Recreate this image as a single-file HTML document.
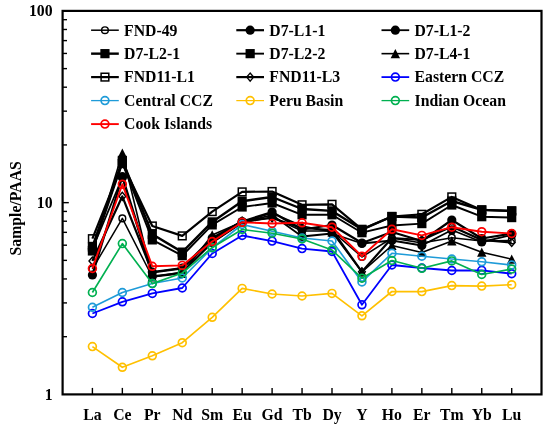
<!DOCTYPE html><html><head><meta charset="utf-8"><title>REE pattern</title><style>html,body{margin:0;padding:0;background:#fff}svg{display:block}text{font-family:"Liberation Serif","Times New Roman",serif;font-weight:bold;fill:#000}</style></head><body>
<svg width="550" height="426" viewBox="0 0 550 426">
<rect width="550" height="426" fill="#fff"/>
<polyline points="92.40,269.00 122.35,218.40 152.30,277.00 182.25,272.00 212.20,243.00 242.15,223.00 272.10,217.00 302.05,231.00 332.00,231.00 361.95,257.00 391.90,238.00 421.85,243.00 451.80,237.70 481.75,241.00 511.70,240.40" fill="none" stroke="#000" stroke-width="1.5" stroke-linejoin="round"/>
<circle cx="92.40" cy="269.00" r="3.35" fill="none" stroke="#000" stroke-width="1.45"/>
<circle cx="122.35" cy="218.40" r="3.35" fill="none" stroke="#000" stroke-width="1.45"/>
<circle cx="152.30" cy="277.00" r="3.35" fill="none" stroke="#000" stroke-width="1.45"/>
<circle cx="182.25" cy="272.00" r="3.35" fill="none" stroke="#000" stroke-width="1.45"/>
<circle cx="212.20" cy="243.00" r="3.35" fill="none" stroke="#000" stroke-width="1.45"/>
<circle cx="242.15" cy="223.00" r="3.35" fill="none" stroke="#000" stroke-width="1.45"/>
<circle cx="272.10" cy="217.00" r="3.35" fill="none" stroke="#000" stroke-width="1.45"/>
<circle cx="302.05" cy="231.00" r="3.35" fill="none" stroke="#000" stroke-width="1.45"/>
<circle cx="332.00" cy="231.00" r="3.35" fill="none" stroke="#000" stroke-width="1.45"/>
<circle cx="361.95" cy="257.00" r="3.35" fill="none" stroke="#000" stroke-width="1.45"/>
<circle cx="391.90" cy="238.00" r="3.35" fill="none" stroke="#000" stroke-width="1.45"/>
<circle cx="421.85" cy="243.00" r="3.35" fill="none" stroke="#000" stroke-width="1.45"/>
<circle cx="451.80" cy="237.70" r="3.35" fill="none" stroke="#000" stroke-width="1.45"/>
<circle cx="481.75" cy="241.00" r="3.35" fill="none" stroke="#000" stroke-width="1.45"/>
<circle cx="511.70" cy="240.40" r="3.35" fill="none" stroke="#000" stroke-width="1.45"/>
<polyline points="92.40,275.00 122.35,176.50 152.30,272.00 182.25,268.00 212.20,238.00 242.15,221.50 272.10,212.00 302.05,229.50 332.00,225.00 361.95,243.00 391.90,232.00 421.85,241.00 451.80,220.00 481.75,238.50 511.70,233.50" fill="none" stroke="#000" stroke-width="2.2" stroke-linejoin="round"/>
<circle cx="92.40" cy="275.00" r="4.6" fill="#000"/>
<circle cx="122.35" cy="176.50" r="4.6" fill="#000"/>
<circle cx="152.30" cy="272.00" r="4.6" fill="#000"/>
<circle cx="182.25" cy="268.00" r="4.6" fill="#000"/>
<circle cx="212.20" cy="238.00" r="4.6" fill="#000"/>
<circle cx="242.15" cy="221.50" r="4.6" fill="#000"/>
<circle cx="272.10" cy="212.00" r="4.6" fill="#000"/>
<circle cx="302.05" cy="229.50" r="4.6" fill="#000"/>
<circle cx="332.00" cy="225.00" r="4.6" fill="#000"/>
<circle cx="361.95" cy="243.00" r="4.6" fill="#000"/>
<circle cx="391.90" cy="232.00" r="4.6" fill="#000"/>
<circle cx="421.85" cy="241.00" r="4.6" fill="#000"/>
<circle cx="451.80" cy="220.00" r="4.6" fill="#000"/>
<circle cx="481.75" cy="238.50" r="4.6" fill="#000"/>
<circle cx="511.70" cy="233.50" r="4.6" fill="#000"/>
<polyline points="92.40,248.80 122.35,177.50 152.30,276.20 182.25,273.00 212.20,242.00 242.15,222.50 272.10,215.00 302.05,236.50 332.00,233.50 361.95,243.50 391.90,240.50 421.85,245.50 451.80,230.00 481.75,242.00 511.70,235.00" fill="none" stroke="#000" stroke-width="1.8" stroke-linejoin="round"/>
<circle cx="92.40" cy="248.80" r="4.6" fill="#000"/>
<circle cx="122.35" cy="177.50" r="4.6" fill="#000"/>
<circle cx="152.30" cy="276.20" r="4.6" fill="#000"/>
<circle cx="182.25" cy="273.00" r="4.6" fill="#000"/>
<circle cx="212.20" cy="242.00" r="4.6" fill="#000"/>
<circle cx="242.15" cy="222.50" r="4.6" fill="#000"/>
<circle cx="272.10" cy="215.00" r="4.6" fill="#000"/>
<circle cx="302.05" cy="236.50" r="4.6" fill="#000"/>
<circle cx="332.00" cy="233.50" r="4.6" fill="#000"/>
<circle cx="361.95" cy="243.50" r="4.6" fill="#000"/>
<circle cx="391.90" cy="240.50" r="4.6" fill="#000"/>
<circle cx="421.85" cy="245.50" r="4.6" fill="#000"/>
<circle cx="451.80" cy="230.00" r="4.6" fill="#000"/>
<circle cx="481.75" cy="242.00" r="4.6" fill="#000"/>
<circle cx="511.70" cy="235.00" r="4.6" fill="#000"/>
<polyline points="92.40,247.00 122.35,160.40 152.30,234.30 182.25,252.10 212.20,221.90 242.15,201.20 272.10,197.00 302.05,209.00 332.00,210.90 361.95,229.60 391.90,216.50 421.85,217.50 451.80,201.00 481.75,209.90 511.70,210.90" fill="none" stroke="#000" stroke-width="2.4" stroke-linejoin="round"/>
<rect x="87.80" y="242.40" width="9.2" height="9.2" fill="#000"/>
<rect x="117.75" y="155.80" width="9.2" height="9.2" fill="#000"/>
<rect x="147.70" y="229.70" width="9.2" height="9.2" fill="#000"/>
<rect x="177.65" y="247.50" width="9.2" height="9.2" fill="#000"/>
<rect x="207.60" y="217.30" width="9.2" height="9.2" fill="#000"/>
<rect x="237.55" y="196.60" width="9.2" height="9.2" fill="#000"/>
<rect x="267.50" y="192.40" width="9.2" height="9.2" fill="#000"/>
<rect x="297.45" y="204.40" width="9.2" height="9.2" fill="#000"/>
<rect x="327.40" y="206.30" width="9.2" height="9.2" fill="#000"/>
<rect x="357.35" y="225.00" width="9.2" height="9.2" fill="#000"/>
<rect x="387.30" y="211.90" width="9.2" height="9.2" fill="#000"/>
<rect x="417.25" y="212.90" width="9.2" height="9.2" fill="#000"/>
<rect x="447.20" y="196.40" width="9.2" height="9.2" fill="#000"/>
<rect x="477.15" y="205.30" width="9.2" height="9.2" fill="#000"/>
<rect x="507.10" y="206.30" width="9.2" height="9.2" fill="#000"/>
<polyline points="92.40,250.50 122.35,163.00 152.30,239.90 182.25,255.70 212.20,224.90 242.15,207.00 272.10,203.00 302.05,214.80 332.00,214.80 361.95,232.70 391.90,225.50 421.85,223.60 451.80,205.00 481.75,216.70 511.70,217.60" fill="none" stroke="#000" stroke-width="1.9" stroke-linejoin="round"/>
<rect x="87.80" y="245.90" width="9.2" height="9.2" fill="#000"/>
<rect x="117.75" y="158.40" width="9.2" height="9.2" fill="#000"/>
<rect x="147.70" y="235.30" width="9.2" height="9.2" fill="#000"/>
<rect x="177.65" y="251.10" width="9.2" height="9.2" fill="#000"/>
<rect x="207.60" y="220.30" width="9.2" height="9.2" fill="#000"/>
<rect x="237.55" y="202.40" width="9.2" height="9.2" fill="#000"/>
<rect x="267.50" y="198.40" width="9.2" height="9.2" fill="#000"/>
<rect x="297.45" y="210.20" width="9.2" height="9.2" fill="#000"/>
<rect x="327.40" y="210.20" width="9.2" height="9.2" fill="#000"/>
<rect x="357.35" y="228.10" width="9.2" height="9.2" fill="#000"/>
<rect x="387.30" y="220.90" width="9.2" height="9.2" fill="#000"/>
<rect x="417.25" y="219.00" width="9.2" height="9.2" fill="#000"/>
<rect x="447.20" y="200.40" width="9.2" height="9.2" fill="#000"/>
<rect x="477.15" y="212.10" width="9.2" height="9.2" fill="#000"/>
<rect x="507.10" y="213.00" width="9.2" height="9.2" fill="#000"/>
<polyline points="92.40,251.00 122.35,153.30 152.30,277.00 182.25,273.50 212.20,235.00 242.15,222.00 272.10,213.00 302.05,226.00 332.00,232.00 361.95,272.00 391.90,245.50 421.85,252.50 451.80,241.00 481.75,252.20 511.70,259.20" fill="none" stroke="#000" stroke-width="1.6" stroke-linejoin="round"/>
<polygon points="92.40,246.30 87.70,255.50 97.10,255.50" fill="#000"/>
<polygon points="122.35,148.60 117.65,157.80 127.05,157.80" fill="#000"/>
<polygon points="152.30,272.30 147.60,281.50 157.00,281.50" fill="#000"/>
<polygon points="182.25,268.80 177.55,278.00 186.95,278.00" fill="#000"/>
<polygon points="212.20,230.30 207.50,239.50 216.90,239.50" fill="#000"/>
<polygon points="242.15,217.30 237.45,226.50 246.85,226.50" fill="#000"/>
<polygon points="272.10,208.30 267.40,217.50 276.80,217.50" fill="#000"/>
<polygon points="302.05,221.30 297.35,230.50 306.75,230.50" fill="#000"/>
<polygon points="332.00,227.30 327.30,236.50 336.70,236.50" fill="#000"/>
<polygon points="361.95,267.30 357.25,276.50 366.65,276.50" fill="#000"/>
<polygon points="391.90,240.80 387.20,250.00 396.60,250.00" fill="#000"/>
<polygon points="421.85,247.80 417.15,257.00 426.55,257.00" fill="#000"/>
<polygon points="451.80,236.30 447.10,245.50 456.50,245.50" fill="#000"/>
<polygon points="481.75,247.50 477.05,256.70 486.45,256.70" fill="#000"/>
<polygon points="511.70,254.50 507.00,263.70 516.40,263.70" fill="#000"/>
<polyline points="92.40,238.70 122.35,163.60 152.30,226.00 182.25,235.90 212.20,211.60 242.15,191.90 272.10,191.50 302.05,204.80 332.00,204.30 361.95,229.30 391.90,216.50 421.85,214.30 451.80,196.90 481.75,209.90 511.70,210.90" fill="none" stroke="#000" stroke-width="2.2" stroke-linejoin="round"/>
<rect x="88.55" y="234.85" width="7.7" height="7.7" fill="none" stroke="#000" stroke-width="1.5"/>
<rect x="118.50" y="159.75" width="7.7" height="7.7" fill="none" stroke="#000" stroke-width="1.5"/>
<rect x="148.45" y="222.15" width="7.7" height="7.7" fill="none" stroke="#000" stroke-width="1.5"/>
<rect x="178.40" y="232.05" width="7.7" height="7.7" fill="none" stroke="#000" stroke-width="1.5"/>
<rect x="208.35" y="207.75" width="7.7" height="7.7" fill="none" stroke="#000" stroke-width="1.5"/>
<rect x="238.30" y="188.05" width="7.7" height="7.7" fill="none" stroke="#000" stroke-width="1.5"/>
<rect x="268.25" y="187.65" width="7.7" height="7.7" fill="none" stroke="#000" stroke-width="1.5"/>
<rect x="298.20" y="200.95" width="7.7" height="7.7" fill="none" stroke="#000" stroke-width="1.5"/>
<rect x="328.15" y="200.45" width="7.7" height="7.7" fill="none" stroke="#000" stroke-width="1.5"/>
<rect x="358.10" y="225.45" width="7.7" height="7.7" fill="none" stroke="#000" stroke-width="1.5"/>
<rect x="388.05" y="212.65" width="7.7" height="7.7" fill="none" stroke="#000" stroke-width="1.5"/>
<rect x="418.00" y="210.45" width="7.7" height="7.7" fill="none" stroke="#000" stroke-width="1.5"/>
<rect x="447.95" y="193.05" width="7.7" height="7.7" fill="none" stroke="#000" stroke-width="1.5"/>
<rect x="477.90" y="206.05" width="7.7" height="7.7" fill="none" stroke="#000" stroke-width="1.5"/>
<rect x="507.85" y="207.05" width="7.7" height="7.7" fill="none" stroke="#000" stroke-width="1.5"/>
<polyline points="92.40,261.00 122.35,196.30 152.30,272.50 182.25,268.50 212.20,240.00 242.15,221.00 272.10,218.00 302.05,228.00 332.00,230.00 361.95,271.80 391.90,238.00 421.85,240.00 451.80,226.50 481.75,240.00 511.70,242.50" fill="none" stroke="#000" stroke-width="2.2" stroke-linejoin="round"/>
<polygon points="92.40,257.00 89.00,261.00 92.40,265.00 95.80,261.00" fill="none" stroke="#000" stroke-width="1.4"/>
<polygon points="122.35,192.30 118.95,196.30 122.35,200.30 125.75,196.30" fill="none" stroke="#000" stroke-width="1.4"/>
<polygon points="152.30,268.50 148.90,272.50 152.30,276.50 155.70,272.50" fill="none" stroke="#000" stroke-width="1.4"/>
<polygon points="182.25,264.50 178.85,268.50 182.25,272.50 185.65,268.50" fill="none" stroke="#000" stroke-width="1.4"/>
<polygon points="212.20,236.00 208.80,240.00 212.20,244.00 215.60,240.00" fill="none" stroke="#000" stroke-width="1.4"/>
<polygon points="242.15,217.00 238.75,221.00 242.15,225.00 245.55,221.00" fill="none" stroke="#000" stroke-width="1.4"/>
<polygon points="272.10,214.00 268.70,218.00 272.10,222.00 275.50,218.00" fill="none" stroke="#000" stroke-width="1.4"/>
<polygon points="302.05,224.00 298.65,228.00 302.05,232.00 305.45,228.00" fill="none" stroke="#000" stroke-width="1.4"/>
<polygon points="332.00,226.00 328.60,230.00 332.00,234.00 335.40,230.00" fill="none" stroke="#000" stroke-width="1.4"/>
<polygon points="361.95,267.80 358.55,271.80 361.95,275.80 365.35,271.80" fill="none" stroke="#000" stroke-width="1.4"/>
<polygon points="391.90,234.00 388.50,238.00 391.90,242.00 395.30,238.00" fill="none" stroke="#000" stroke-width="1.4"/>
<polygon points="421.85,236.00 418.45,240.00 421.85,244.00 425.25,240.00" fill="none" stroke="#000" stroke-width="1.4"/>
<polygon points="451.80,222.50 448.40,226.50 451.80,230.50 455.20,226.50" fill="none" stroke="#000" stroke-width="1.4"/>
<polygon points="481.75,236.00 478.35,240.00 481.75,244.00 485.15,240.00" fill="none" stroke="#000" stroke-width="1.4"/>
<polygon points="511.70,238.50 508.30,242.50 511.70,246.50 515.10,242.50" fill="none" stroke="#000" stroke-width="1.4"/>
<polyline points="92.40,313.50 122.35,301.80 152.30,293.40 182.25,288.00 212.20,253.50 242.15,235.50 272.10,241.10 302.05,248.60 332.00,251.50 361.95,304.80 391.90,265.00 421.85,268.00 451.80,270.50 481.75,270.30 511.70,273.70" fill="none" stroke="#0000ff" stroke-width="1.8" stroke-linejoin="round"/>
<circle cx="92.40" cy="313.50" r="3.9" fill="none" stroke="#0000ff" stroke-width="1.7"/>
<circle cx="122.35" cy="301.80" r="3.9" fill="none" stroke="#0000ff" stroke-width="1.7"/>
<circle cx="152.30" cy="293.40" r="3.9" fill="none" stroke="#0000ff" stroke-width="1.7"/>
<circle cx="182.25" cy="288.00" r="3.9" fill="none" stroke="#0000ff" stroke-width="1.7"/>
<circle cx="212.20" cy="253.50" r="3.9" fill="none" stroke="#0000ff" stroke-width="1.7"/>
<circle cx="242.15" cy="235.50" r="3.9" fill="none" stroke="#0000ff" stroke-width="1.7"/>
<circle cx="272.10" cy="241.10" r="3.9" fill="none" stroke="#0000ff" stroke-width="1.7"/>
<circle cx="302.05" cy="248.60" r="3.9" fill="none" stroke="#0000ff" stroke-width="1.7"/>
<circle cx="332.00" cy="251.50" r="3.9" fill="none" stroke="#0000ff" stroke-width="1.7"/>
<circle cx="361.95" cy="304.80" r="3.9" fill="none" stroke="#0000ff" stroke-width="1.7"/>
<circle cx="391.90" cy="265.00" r="3.9" fill="none" stroke="#0000ff" stroke-width="1.7"/>
<circle cx="421.85" cy="268.00" r="3.9" fill="none" stroke="#0000ff" stroke-width="1.7"/>
<circle cx="451.80" cy="270.50" r="3.9" fill="none" stroke="#0000ff" stroke-width="1.7"/>
<circle cx="481.75" cy="270.30" r="3.9" fill="none" stroke="#0000ff" stroke-width="1.7"/>
<circle cx="511.70" cy="273.70" r="3.9" fill="none" stroke="#0000ff" stroke-width="1.7"/>
<polyline points="92.40,307.30 122.35,292.50 152.30,283.50 182.25,278.00 212.20,248.00 242.15,224.50 272.10,231.30 302.05,238.00 332.00,241.00 361.95,281.90 391.90,253.30 421.85,256.20 451.80,259.00 481.75,261.80 511.70,265.00" fill="none" stroke="#1e9bd8" stroke-width="1.65" stroke-linejoin="round"/>
<circle cx="92.40" cy="307.30" r="3.9" fill="none" stroke="#1e9bd8" stroke-width="1.7"/>
<circle cx="122.35" cy="292.50" r="3.9" fill="none" stroke="#1e9bd8" stroke-width="1.7"/>
<circle cx="152.30" cy="283.50" r="3.9" fill="none" stroke="#1e9bd8" stroke-width="1.7"/>
<circle cx="182.25" cy="278.00" r="3.9" fill="none" stroke="#1e9bd8" stroke-width="1.7"/>
<circle cx="212.20" cy="248.00" r="3.9" fill="none" stroke="#1e9bd8" stroke-width="1.7"/>
<circle cx="242.15" cy="224.50" r="3.9" fill="none" stroke="#1e9bd8" stroke-width="1.7"/>
<circle cx="272.10" cy="231.30" r="3.9" fill="none" stroke="#1e9bd8" stroke-width="1.7"/>
<circle cx="302.05" cy="238.00" r="3.9" fill="none" stroke="#1e9bd8" stroke-width="1.7"/>
<circle cx="332.00" cy="241.00" r="3.9" fill="none" stroke="#1e9bd8" stroke-width="1.7"/>
<circle cx="361.95" cy="281.90" r="3.9" fill="none" stroke="#1e9bd8" stroke-width="1.7"/>
<circle cx="391.90" cy="253.30" r="3.9" fill="none" stroke="#1e9bd8" stroke-width="1.7"/>
<circle cx="421.85" cy="256.20" r="3.9" fill="none" stroke="#1e9bd8" stroke-width="1.7"/>
<circle cx="451.80" cy="259.00" r="3.9" fill="none" stroke="#1e9bd8" stroke-width="1.7"/>
<circle cx="481.75" cy="261.80" r="3.9" fill="none" stroke="#1e9bd8" stroke-width="1.7"/>
<circle cx="511.70" cy="265.00" r="3.9" fill="none" stroke="#1e9bd8" stroke-width="1.7"/>
<polyline points="92.40,346.60 122.35,367.30 152.30,355.80 182.25,342.70 212.20,317.30 242.15,288.40 272.10,294.00 302.05,296.00 332.00,293.40 361.95,315.80 391.90,291.50 421.85,291.60 451.80,285.60 481.75,286.10 511.70,284.70" fill="none" stroke="#ffc000" stroke-width="1.65" stroke-linejoin="round"/>
<circle cx="92.40" cy="346.60" r="3.9" fill="none" stroke="#ffc000" stroke-width="1.7"/>
<circle cx="122.35" cy="367.30" r="3.9" fill="none" stroke="#ffc000" stroke-width="1.7"/>
<circle cx="152.30" cy="355.80" r="3.9" fill="none" stroke="#ffc000" stroke-width="1.7"/>
<circle cx="182.25" cy="342.70" r="3.9" fill="none" stroke="#ffc000" stroke-width="1.7"/>
<circle cx="212.20" cy="317.30" r="3.9" fill="none" stroke="#ffc000" stroke-width="1.7"/>
<circle cx="242.15" cy="288.40" r="3.9" fill="none" stroke="#ffc000" stroke-width="1.7"/>
<circle cx="272.10" cy="294.00" r="3.9" fill="none" stroke="#ffc000" stroke-width="1.7"/>
<circle cx="302.05" cy="296.00" r="3.9" fill="none" stroke="#ffc000" stroke-width="1.7"/>
<circle cx="332.00" cy="293.40" r="3.9" fill="none" stroke="#ffc000" stroke-width="1.7"/>
<circle cx="361.95" cy="315.80" r="3.9" fill="none" stroke="#ffc000" stroke-width="1.7"/>
<circle cx="391.90" cy="291.50" r="3.9" fill="none" stroke="#ffc000" stroke-width="1.7"/>
<circle cx="421.85" cy="291.60" r="3.9" fill="none" stroke="#ffc000" stroke-width="1.7"/>
<circle cx="451.80" cy="285.60" r="3.9" fill="none" stroke="#ffc000" stroke-width="1.7"/>
<circle cx="481.75" cy="286.10" r="3.9" fill="none" stroke="#ffc000" stroke-width="1.7"/>
<circle cx="511.70" cy="284.70" r="3.9" fill="none" stroke="#ffc000" stroke-width="1.7"/>
<polyline points="92.40,292.50 122.35,243.60 152.30,283.60 182.25,273.00 212.20,247.50 242.15,229.50 272.10,233.20 302.05,239.00 332.00,250.00 361.95,278.20 391.90,260.50 421.85,268.30 451.80,260.90 481.75,274.50 511.70,269.10" fill="none" stroke="#00b050" stroke-width="1.65" stroke-linejoin="round"/>
<circle cx="92.40" cy="292.50" r="3.9" fill="none" stroke="#00b050" stroke-width="1.7"/>
<circle cx="122.35" cy="243.60" r="3.9" fill="none" stroke="#00b050" stroke-width="1.7"/>
<circle cx="152.30" cy="283.60" r="3.9" fill="none" stroke="#00b050" stroke-width="1.7"/>
<circle cx="182.25" cy="273.00" r="3.9" fill="none" stroke="#00b050" stroke-width="1.7"/>
<circle cx="212.20" cy="247.50" r="3.9" fill="none" stroke="#00b050" stroke-width="1.7"/>
<circle cx="242.15" cy="229.50" r="3.9" fill="none" stroke="#00b050" stroke-width="1.7"/>
<circle cx="272.10" cy="233.20" r="3.9" fill="none" stroke="#00b050" stroke-width="1.7"/>
<circle cx="302.05" cy="239.00" r="3.9" fill="none" stroke="#00b050" stroke-width="1.7"/>
<circle cx="332.00" cy="250.00" r="3.9" fill="none" stroke="#00b050" stroke-width="1.7"/>
<circle cx="361.95" cy="278.20" r="3.9" fill="none" stroke="#00b050" stroke-width="1.7"/>
<circle cx="391.90" cy="260.50" r="3.9" fill="none" stroke="#00b050" stroke-width="1.7"/>
<circle cx="421.85" cy="268.30" r="3.9" fill="none" stroke="#00b050" stroke-width="1.7"/>
<circle cx="451.80" cy="260.90" r="3.9" fill="none" stroke="#00b050" stroke-width="1.7"/>
<circle cx="481.75" cy="274.50" r="3.9" fill="none" stroke="#00b050" stroke-width="1.7"/>
<circle cx="511.70" cy="269.10" r="3.9" fill="none" stroke="#00b050" stroke-width="1.7"/>
<polyline points="92.40,268.50 122.35,184.20 152.30,266.30 182.25,265.40 212.20,241.50 242.15,222.30 272.10,223.50 302.05,222.80 332.00,227.20 361.95,256.20 391.90,229.30 421.85,235.40 451.80,227.20 481.75,231.70 511.70,233.50" fill="none" stroke="#ff0000" stroke-width="1.9" stroke-linejoin="round"/>
<circle cx="92.40" cy="268.50" r="3.9" fill="none" stroke="#ff0000" stroke-width="1.7"/>
<circle cx="122.35" cy="184.20" r="3.9" fill="none" stroke="#ff0000" stroke-width="1.7"/>
<circle cx="152.30" cy="266.30" r="3.9" fill="none" stroke="#ff0000" stroke-width="1.7"/>
<circle cx="182.25" cy="265.40" r="3.9" fill="none" stroke="#ff0000" stroke-width="1.7"/>
<circle cx="212.20" cy="241.50" r="3.9" fill="none" stroke="#ff0000" stroke-width="1.7"/>
<circle cx="242.15" cy="222.30" r="3.9" fill="none" stroke="#ff0000" stroke-width="1.7"/>
<circle cx="272.10" cy="223.50" r="3.9" fill="none" stroke="#ff0000" stroke-width="1.7"/>
<circle cx="302.05" cy="222.80" r="3.9" fill="none" stroke="#ff0000" stroke-width="1.7"/>
<circle cx="332.00" cy="227.20" r="3.9" fill="none" stroke="#ff0000" stroke-width="1.7"/>
<circle cx="361.95" cy="256.20" r="3.9" fill="none" stroke="#ff0000" stroke-width="1.7"/>
<circle cx="391.90" cy="229.30" r="3.9" fill="none" stroke="#ff0000" stroke-width="1.7"/>
<circle cx="421.85" cy="235.40" r="3.9" fill="none" stroke="#ff0000" stroke-width="1.7"/>
<circle cx="451.80" cy="227.20" r="3.9" fill="none" stroke="#ff0000" stroke-width="1.7"/>
<circle cx="481.75" cy="231.70" r="3.9" fill="none" stroke="#ff0000" stroke-width="1.7"/>
<circle cx="511.70" cy="233.50" r="3.9" fill="none" stroke="#ff0000" stroke-width="1.7"/>
<rect x="62.6" y="10.9" width="478.9" height="383.5" fill="none" stroke="#000" stroke-width="2.2"/>
<line x1="62.6" x2="67.0" y1="336.68" y2="336.68" stroke="#000" stroke-width="1.4"/>
<line x1="62.6" x2="67.0" y1="302.91" y2="302.91" stroke="#000" stroke-width="1.4"/>
<line x1="62.6" x2="67.0" y1="278.95" y2="278.95" stroke="#000" stroke-width="1.4"/>
<line x1="62.6" x2="67.0" y1="260.37" y2="260.37" stroke="#000" stroke-width="1.4"/>
<line x1="62.6" x2="67.0" y1="245.19" y2="245.19" stroke="#000" stroke-width="1.4"/>
<line x1="62.6" x2="67.0" y1="232.35" y2="232.35" stroke="#000" stroke-width="1.4"/>
<line x1="62.6" x2="67.0" y1="221.23" y2="221.23" stroke="#000" stroke-width="1.4"/>
<line x1="62.6" x2="67.0" y1="211.42" y2="211.42" stroke="#000" stroke-width="1.4"/>
<line x1="62.6" x2="67.0" y1="144.93" y2="144.93" stroke="#000" stroke-width="1.4"/>
<line x1="62.6" x2="67.0" y1="111.16" y2="111.16" stroke="#000" stroke-width="1.4"/>
<line x1="62.6" x2="67.0" y1="87.20" y2="87.20" stroke="#000" stroke-width="1.4"/>
<line x1="62.6" x2="67.0" y1="68.62" y2="68.62" stroke="#000" stroke-width="1.4"/>
<line x1="62.6" x2="67.0" y1="53.44" y2="53.44" stroke="#000" stroke-width="1.4"/>
<line x1="62.6" x2="67.0" y1="40.60" y2="40.60" stroke="#000" stroke-width="1.4"/>
<line x1="62.6" x2="67.0" y1="29.48" y2="29.48" stroke="#000" stroke-width="1.4"/>
<line x1="62.6" x2="67.0" y1="19.67" y2="19.67" stroke="#000" stroke-width="1.4"/>
<line x1="62.6" x2="68.8" y1="202.65" y2="202.65" stroke="#000" stroke-width="1.4"/>
<line x1="92.40" x2="92.40" y1="394.4" y2="387.9" stroke="#000" stroke-width="1.4"/>
<line x1="122.35" x2="122.35" y1="394.4" y2="387.9" stroke="#000" stroke-width="1.4"/>
<line x1="152.30" x2="152.30" y1="394.4" y2="387.9" stroke="#000" stroke-width="1.4"/>
<line x1="182.25" x2="182.25" y1="394.4" y2="387.9" stroke="#000" stroke-width="1.4"/>
<line x1="212.20" x2="212.20" y1="394.4" y2="387.9" stroke="#000" stroke-width="1.4"/>
<line x1="242.15" x2="242.15" y1="394.4" y2="387.9" stroke="#000" stroke-width="1.4"/>
<line x1="272.10" x2="272.10" y1="394.4" y2="387.9" stroke="#000" stroke-width="1.4"/>
<line x1="302.05" x2="302.05" y1="394.4" y2="387.9" stroke="#000" stroke-width="1.4"/>
<line x1="332.00" x2="332.00" y1="394.4" y2="387.9" stroke="#000" stroke-width="1.4"/>
<line x1="361.95" x2="361.95" y1="394.4" y2="387.9" stroke="#000" stroke-width="1.4"/>
<line x1="391.90" x2="391.90" y1="394.4" y2="387.9" stroke="#000" stroke-width="1.4"/>
<line x1="421.85" x2="421.85" y1="394.4" y2="387.9" stroke="#000" stroke-width="1.4"/>
<line x1="451.80" x2="451.80" y1="394.4" y2="387.9" stroke="#000" stroke-width="1.4"/>
<line x1="481.75" x2="481.75" y1="394.4" y2="387.9" stroke="#000" stroke-width="1.4"/>
<line x1="511.70" x2="511.70" y1="394.4" y2="387.9" stroke="#000" stroke-width="1.4"/>
<text x="92.40" y="420.1" font-size="15.75" text-anchor="middle">La</text>
<text x="122.35" y="420.1" font-size="15.75" text-anchor="middle">Ce</text>
<text x="152.30" y="420.1" font-size="15.75" text-anchor="middle">Pr</text>
<text x="182.25" y="420.1" font-size="15.75" text-anchor="middle">Nd</text>
<text x="212.20" y="420.1" font-size="15.75" text-anchor="middle">Sm</text>
<text x="242.15" y="420.1" font-size="15.75" text-anchor="middle">Eu</text>
<text x="272.10" y="420.1" font-size="15.75" text-anchor="middle">Gd</text>
<text x="302.05" y="420.1" font-size="15.75" text-anchor="middle">Tb</text>
<text x="332.00" y="420.1" font-size="15.75" text-anchor="middle">Dy</text>
<text x="361.95" y="420.1" font-size="15.75" text-anchor="middle">Y</text>
<text x="391.90" y="420.1" font-size="15.75" text-anchor="middle">Ho</text>
<text x="421.85" y="420.1" font-size="15.75" text-anchor="middle">Er</text>
<text x="451.80" y="420.1" font-size="15.75" text-anchor="middle">Tm</text>
<text x="481.75" y="420.1" font-size="15.75" text-anchor="middle">Yb</text>
<text x="511.70" y="420.1" font-size="15.75" text-anchor="middle">Lu</text>
<text x="52.5" y="16.20" font-size="15.75" text-anchor="end">100</text>
<text x="52.5" y="207.95" font-size="15.75" text-anchor="end">10</text>
<text x="52.5" y="399.70" font-size="15.75" text-anchor="end">1</text>
<text transform="translate(20.6,208.3) rotate(-90)" font-size="15.75" text-anchor="middle">Sample/PAAS</text>
<line x1="91.1" x2="118.8" y1="30.2" y2="30.2" stroke="#000" stroke-width="1.5"/>
<circle cx="104.95" cy="30.20" r="3.35" fill="none" stroke="#000" stroke-width="1.45"/>
<text x="124.1" y="35.5" font-size="15.75">FND-49</text>
<line x1="236.3" x2="264.0" y1="30.2" y2="30.2" stroke="#000" stroke-width="2.2"/>
<circle cx="250.15" cy="30.20" r="4.6" fill="#000"/>
<text x="269.3" y="35.5" font-size="15.75">D7-L1-1</text>
<line x1="381.5" x2="409.2" y1="30.2" y2="30.2" stroke="#000" stroke-width="1.8"/>
<circle cx="395.35" cy="30.20" r="4.6" fill="#000"/>
<text x="414.5" y="35.5" font-size="15.75">D7-L1-2</text>
<line x1="91.1" x2="118.8" y1="53.65" y2="53.65" stroke="#000" stroke-width="2.4"/>
<rect x="100.35" y="49.05" width="9.2" height="9.2" fill="#000"/>
<text x="124.1" y="58.949999999999996" font-size="15.75">D7-L2-1</text>
<line x1="236.3" x2="264.0" y1="53.65" y2="53.65" stroke="#000" stroke-width="1.9"/>
<rect x="245.55" y="49.05" width="9.2" height="9.2" fill="#000"/>
<text x="269.3" y="58.949999999999996" font-size="15.75">D7-L2-2</text>
<line x1="381.5" x2="409.2" y1="53.65" y2="53.65" stroke="#000" stroke-width="1.6"/>
<polygon points="395.35,48.95 390.65,58.15 400.05,58.15" fill="#000"/>
<text x="414.5" y="58.949999999999996" font-size="15.75">D7-L4-1</text>
<line x1="91.1" x2="118.8" y1="77.1" y2="77.1" stroke="#000" stroke-width="2.2"/>
<rect x="101.10" y="73.25" width="7.7" height="7.7" fill="none" stroke="#000" stroke-width="1.5"/>
<text x="124.1" y="82.39999999999999" font-size="15.75">FND11-L1</text>
<line x1="236.3" x2="264.0" y1="77.1" y2="77.1" stroke="#000" stroke-width="2.2"/>
<polygon points="250.15,73.10 246.75,77.10 250.15,81.10 253.55,77.10" fill="none" stroke="#000" stroke-width="1.4"/>
<text x="269.3" y="82.39999999999999" font-size="15.75">FND11-L3</text>
<line x1="381.5" x2="409.2" y1="77.1" y2="77.1" stroke="#0000ff" stroke-width="1.8"/>
<circle cx="395.35" cy="77.10" r="3.9" fill="none" stroke="#0000ff" stroke-width="1.7"/>
<text x="414.5" y="82.39999999999999" font-size="15.75">Eastern CCZ</text>
<line x1="91.1" x2="118.8" y1="100.6" y2="100.6" stroke="#1e9bd8" stroke-width="1.3"/>
<circle cx="104.95" cy="100.60" r="3.9" fill="none" stroke="#1e9bd8" stroke-width="1.7"/>
<text x="124.1" y="105.89999999999999" font-size="15.75">Central CCZ</text>
<line x1="236.3" x2="264.0" y1="100.6" y2="100.6" stroke="#ffc000" stroke-width="1.25"/>
<circle cx="250.15" cy="100.60" r="3.9" fill="none" stroke="#ffc000" stroke-width="1.7"/>
<text x="269.3" y="105.89999999999999" font-size="15.75">Peru Basin</text>
<line x1="381.5" x2="409.2" y1="100.6" y2="100.6" stroke="#00b050" stroke-width="1.3"/>
<circle cx="395.35" cy="100.60" r="3.9" fill="none" stroke="#00b050" stroke-width="1.7"/>
<text x="414.5" y="105.89999999999999" font-size="15.75">Indian Ocean</text>
<line x1="91.1" x2="118.8" y1="124.1" y2="124.1" stroke="#ff0000" stroke-width="1.9"/>
<circle cx="104.95" cy="124.10" r="3.9" fill="none" stroke="#ff0000" stroke-width="1.7"/>
<text x="124.1" y="129.4" font-size="15.75">Cook Islands</text>
</svg></body></html>
